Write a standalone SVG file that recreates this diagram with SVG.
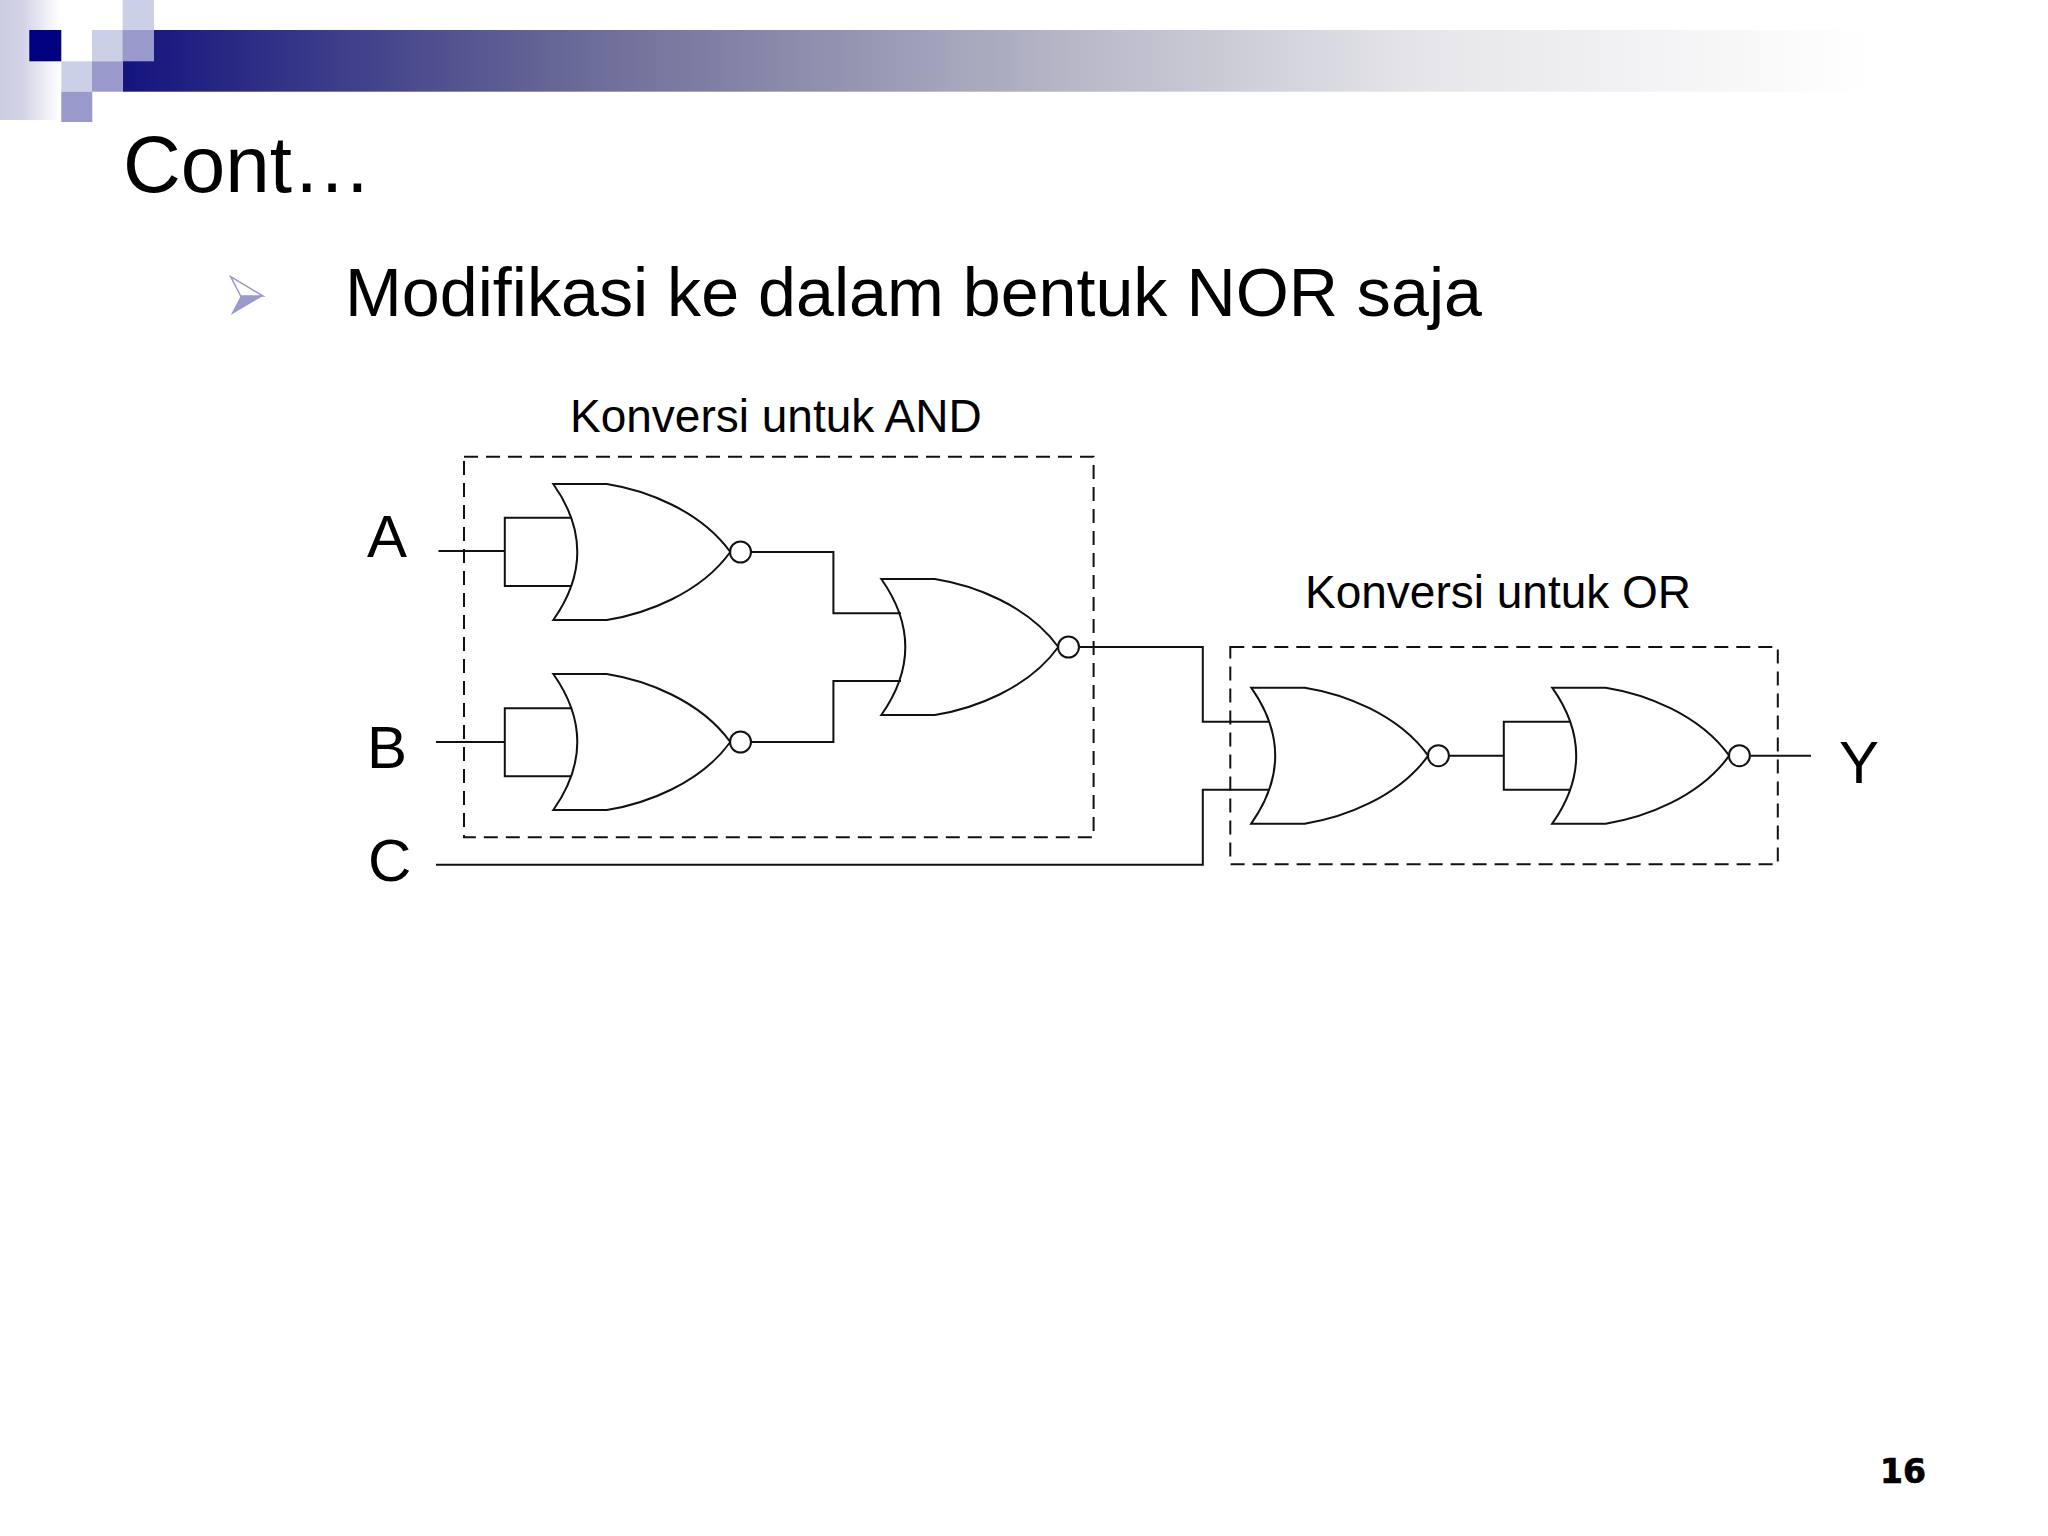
<svg xmlns="http://www.w3.org/2000/svg" width="2048" height="1536" viewBox="0 0 2048 1536">
<style>
text{font-family:"Liberation Sans",Arial,sans-serif;fill:#000}
.w{fill:none;stroke:#111;stroke-width:2}
.d{fill:none;stroke:#111;stroke-width:2;stroke-dasharray:14 8}
.l{fill:#ccd0e6}.m{fill:#9999cc}
.sig{font-size:60px}.lab{font-size:46px}
</style>
<defs>
<linearGradient id="bar" x1="0" x2="1" y1="0" y2="0"><stop offset="0" stop-color="#14147e"/><stop offset=".25" stop-color="#6b6b98"/><stop offset=".52" stop-color="#b8b8c8"/><stop offset=".71" stop-color="#e6e6ea"/><stop offset=".95" stop-color="#fff"/></linearGradient>
<linearGradient id="side" x1="0" x2="1" y1="0" y2="0"><stop offset="0" stop-color="#cccce2"/><stop offset=".4" stop-color="#d4d4e8"/><stop offset="1" stop-color="#fff"/></linearGradient>
<g id="nor"><path class="w" d="M0 0H53.5C91.7 6 146.7 26 177 68C146.7 110 91.7 130 53.5 136H0Q48 68 0 0Z"/><circle class="w" cx="187.2" cy="68" r="10.5"/></g>
</defs>
<g id="header">
<rect x="0" y="0" width="60" height="120" fill="url(#side)"/>
<rect x="122.7" y="30" width="1837" height="61.7" fill="url(#bar)"/>
<rect x="29.3" y="30" width="32" height="31.3" fill="#000080"/>
<rect class="l" x="122.7" y="0" width="31.3" height="30"/>
<rect class="l" x="92" y="30" width="30.7" height="31.3"/>
<rect class="m" x="122.7" y="30" width="31.3" height="31.3"/>
<rect class="l" x="61.3" y="61.3" width="30.7" height="30.4"/>
<rect class="m" x="92" y="61.3" width="30.7" height="30.4"/>
<rect class="m" x="61.3" y="91.7" width="31" height="30.3"/>
</g>
<text x="123" y="191.7" font-size="80">Cont…</text>
<g id="bullet"><path d="M230.7 276.7L263 296H240.7Z" fill="#fff" stroke="#9999cc" stroke-width="1.5"/><path d="M230.7 315L263 296H240.7Z" fill="#9999cc"/></g>
<text x="345" y="316" font-size="68.2">Modifikasi ke dalam bentuk NOR saja</text>
<text class="lab" x="570" y="431.5">Konversi untuk AND</text>
<text class="lab" x="1305" y="608">Konversi untuk OR</text>
<text class="sig" x="367" y="557">A</text>
<text class="sig" x="367" y="768">B</text>
<text class="sig" x="368" y="881">C</text>
<text class="sig" x="1839" y="783">Y</text>
<text x="1880" y="1483" font-size="33" style="font-family:'DejaVu Sans',sans-serif;font-weight:bold;stroke:#000;stroke-width:.7">16</text>
<g id="connectors">
<path class="w" d="M438.5 551H504.8M572 517.7H504.8V586H572"/>
<path class="w" d="M436 742H504.8M572 708.3H504.8V776.3H572"/>
<path class="w" d="M751 552H833.4V613.3H901"/>
<path class="w" d="M751 742H833.4V681H901"/>
<path class="w" d="M1080 647H1202.8V721.7H1269"/>
<path class="w" d="M436 864.7H1202.8V789.7H1269"/>
<path class="w" d="M1449 755.7H1503.8M1571 721.7H1503.8V789.7H1571"/>
<path class="w" d="M1750.7 755.7H1811"/>
</g>
<g id="group-and"><rect class="d" x="464" y="456.7" width="629.6" height="380.6"/></g>
<g id="group-or"><rect class="d" x="1230.3" y="647" width="547.5" height="217.3"/></g>
<use id="gate1" href="#nor" x="553.3" y="484"/>
<use id="gate2" href="#nor" x="553.3" y="674"/>
<use id="gate3" href="#nor" x="881.3" y="579"/>
<use id="gate4" href="#nor" x="1251.2" y="687.7"/>
<use id="gate5" href="#nor" x="1552.2" y="687.7"/>
</svg>
